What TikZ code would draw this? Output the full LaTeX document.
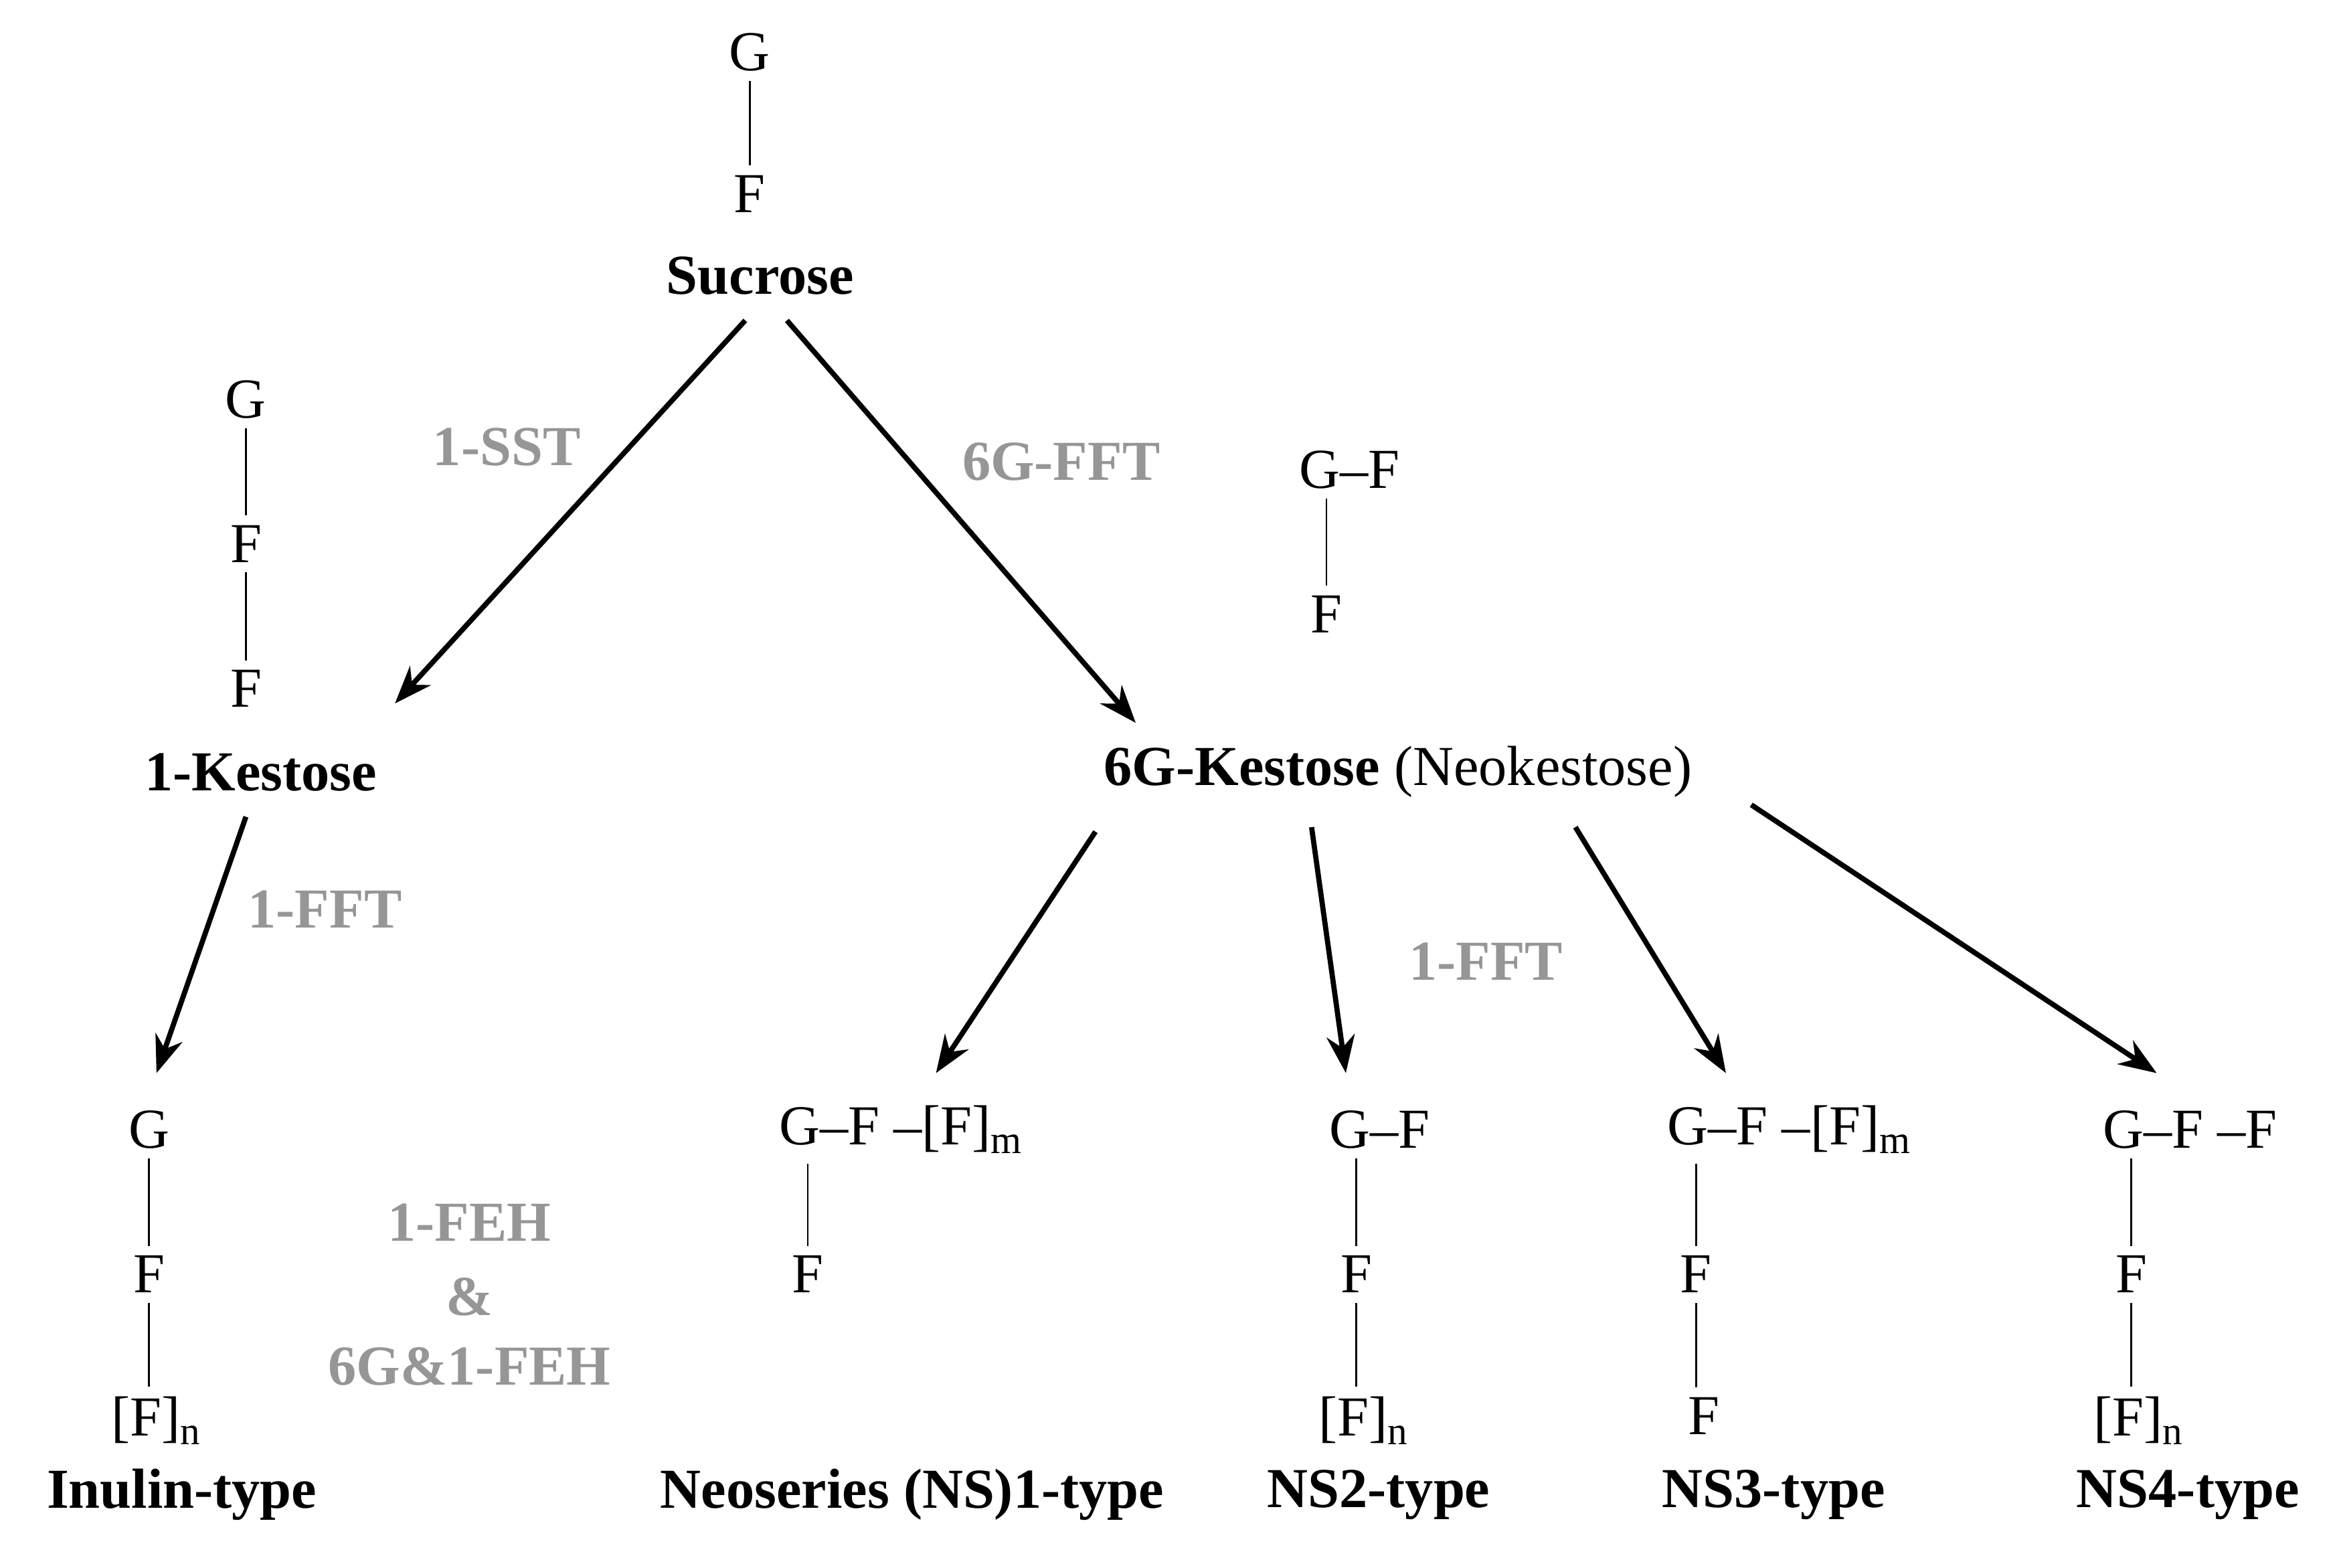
\documentclass[tikz,border=0pt]{standalone}
\usepackage{fontspec}
\setmainfont{Liberation Serif}
\usetikzlibrary{arrows.meta}
\definecolor{lab}{RGB}{150,150,150}
\begin{document}
\begin{tikzpicture}[x=0.02227cm,y=-0.02227cm,
  every node/.style={font=\fontsize{24}{28}\selectfont, inner sep=1pt},
  t/.style={},
  nm/.style={font=\fontsize{24}{28}\selectfont\bfseries},
  en/.style={font=\fontsize{24}{28}\selectfont\bfseries, text=lab},
  bond/.style={line width=0.8pt, shorten >=3pt, shorten <=3pt},
  arr/.style={line width=2.2pt, -{Stealth[length=16pt,width=12pt]}}]
\useasboundingbox (0,0) rectangle (1568,1052);
% Sucrose
\node (sG) at (503,35) {G};
\node (sF) at (503,130) {F};
\draw[bond] (sG) -- (sF);
\node[nm] (suc) at (510,185) {Sucrose};
% 1-Kestose
\node (kG) at (165,268) {G};
\node (kF1) at (165,365) {F};
\node (kF2) at (165,462) {F};
\draw[bond] (kG) -- (kF1); \draw[bond] (kF1) -- (kF2);
\node[nm] (kes) at (175,518) {1-Kestose};
% neokestose
\node[anchor=west] (nGF) at (870,315) {G–F};
\node (nF) at (890,412) {F};
\draw[bond] (nGF.south west) ++(20,0) coordinate (nc) ; \draw[bond] (nc) -- (nF);
\node (neo) at (938,518) {\textbf{6G-Kestose} (Neokestose)};
% labels
\node[en] at (340,300) {1-SST};
\node[en] at (712,310) {6G-FFT};
\node[en] at (218,610) {1-FFT};
\node[en] at (997,645) {1-FFT};
\node[en] at (315,820) {1-FEH};
\node[en] at (315,870) {\&};
\node[en] at (315,917) {6G\&1-FEH};
% arrows
\coordinate (a1) at (500,215); \coordinate (a1e) at (265,472);
\coordinate (a2) at (528,215); \coordinate (a2e) at (762,485);
\draw[arr] (a1) -- (a1e); \draw[arr] (a2) -- (a2e);
\coordinate (b1) at (165,548); \coordinate (b1e) at (105,720);
\draw[arr] (b1) -- (b1e);
\coordinate (c1) at (735,558); \coordinate (c1e) at (628,720);
\coordinate (c2) at (880,555); \coordinate (c2e) at (903,720);
\coordinate (c3) at (1057,555); \coordinate (c3e) at (1158,720);
\coordinate (c4) at (1175,540); \coordinate (c4e) at (1447,720);
\draw[arr] (c1) -- (c1e); \draw[arr] (c2) -- (c2e);
\draw[arr] (c3) -- (c3e); \draw[arr] (c4) -- (c4e);
% Inulin
\node (iG) at (100,758) {G};
\node (iF) at (100,855) {F};
\node (iFn) at (105,953) {[F]\textsubscript{n}};
\draw[bond] (iG) -- (iF); \draw[bond] (iF) -- (iFn.north -| iF);
\node[nm] at (122,1003) {Inulin-type};
% NS1
\node[anchor=west] (n1) at (521,758) {G–F –[F]\textsubscript{m}};
\node (n1F) at (542,855) {F};
\draw[bond] (n1.south west -| n1F) -- (n1F);
\node[nm] at (612,1003) {Neoseries (NS)1-type};
% NS2
\node[anchor=west] (n2) at (890,758) {G–F};
\node (n2F) at (910,855) {F};
\node (n2Fn) at (915,953) {[F]\textsubscript{n}};
\draw[bond] (n2.south west -| n2F) -- (n2F); \draw[bond] (n2F) -- (n2Fn.north -| n2F);
\node[nm] at (925,1003) {NS2-type};
% NS3
\node[anchor=west] (n3) at (1117,758) {G–F –[F]\textsubscript{m}};
\node (n3F) at (1138,855) {F};
\node (n3F2) at (1143,950) {F};
\draw[bond] (n3.south west -| n3F) -- (n3F); \draw[bond] (n3F) -- (n3F2.north -| n3F);
\node[nm] at (1190,1003) {NS3-type};
% NS4
\node[anchor=west] (n4) at (1409,758) {G–F –F};
\node (n4F) at (1430,855) {F};
\node (n4Fn) at (1435,953) {[F]\textsubscript{n}};
\draw[bond] (n4.south west -| n4F) -- (n4F); \draw[bond] (n4F) -- (n4Fn.north -| n4F);
\node[nm] at (1468,1003) {NS4-type};
\end{tikzpicture}
\end{document}
